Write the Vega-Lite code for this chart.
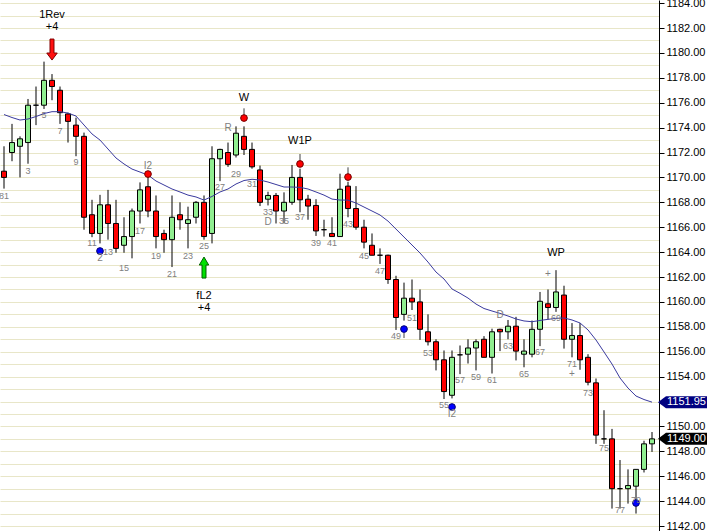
{
"$schema": "https://vega.github.io/schema/vega-lite/v6.json",
"width": 659, "height": 531, "padding": {"left": 0, "top": 0, "right": 53, "bottom": 0}, "autosize": {"type": "none"},
"background": "white",
"config": {"view": {"stroke": null}, "font": "Liberation Sans"},
"resolve": {"axis": {"y": "independent"}},
"datasets": {
"bars": [
{"i":0,"o":1170.5,"h":1172.5,"l":1169.1,"c":1170.0},
{"i":1,"o":1172.0,"h":1174.3,"l":1171.3,"c":1172.8},
{"i":2,"o":1172.5,"h":1173.3,"l":1170.0,"c":1173.1},
{"i":3,"o":1172.8,"h":1176.3,"l":1171.1,"c":1175.8},
{"i":4,"o":1175.8,"h":1177.3,"l":1174.2,"c":1175.8},
{"i":5,"o":1175.8,"h":1179.3,"l":1175.5,"c":1177.8},
{"i":6,"o":1177.8,"h":1178.3,"l":1176.2,"c":1177.3},
{"i":7,"o":1177.0,"h":1177.3,"l":1174.3,"c":1175.2},
{"i":8,"o":1175.1,"h":1175.2,"l":1172.8,"c":1174.5},
{"i":9,"o":1174.2,"h":1174.8,"l":1171.7,"c":1173.3},
{"i":10,"o":1173.3,"h":1173.6,"l":1165.8,"c":1166.8},
{"i":11,"o":1167.0,"h":1168.2,"l":1165.2,"c":1165.5},
{"i":12,"o":1165.5,"h":1168.6,"l":1164.7,"c":1167.8},
{"i":13,"o":1167.8,"h":1169.0,"l":1165.0,"c":1166.3},
{"i":14,"o":1166.3,"h":1168.2,"l":1163.95,"c":1164.3},
{"i":15,"o":1164.55,"h":1166.8,"l":1163.95,"c":1165.25},
{"i":16,"o":1165.25,"h":1167.5,"l":1163.5,"c":1167.3},
{"i":17,"o":1167.3,"h":1169.6,"l":1166.3,"c":1169.0},
{"i":18,"o":1169.25,"h":1170.1,"l":1166.8,"c":1167.3},
{"i":19,"o":1167.3,"h":1168.55,"l":1164.3,"c":1165.25},
{"i":20,"o":1165.5,"h":1165.8,"l":1163.95,"c":1165.0},
{"i":21,"o":1165.0,"h":1168.55,"l":1162.8,"c":1166.8},
{"i":22,"o":1167.0,"h":1168.0,"l":1165.8,"c":1166.6},
{"i":23,"o":1166.3,"h":1167.65,"l":1164.3,"c":1166.6},
{"i":24,"o":1166.8,"h":1168.1,"l":1166.3,"c":1168.0},
{"i":25,"o":1168.0,"h":1168.55,"l":1165.0,"c":1165.25},
{"i":26,"o":1165.5,"h":1172.5,"l":1164.7,"c":1171.5},
{"i":27,"o":1171.5,"h":1172.3,"l":1169.7,"c":1172.25},
{"i":28,"o":1172.0,"h":1172.8,"l":1170.85,"c":1171.05},
{"i":29,"o":1171.8,"h":1174.1,"l":1171.6,"c":1173.55},
{"i":30,"o":1173.3,"h":1174.1,"l":1171.8,"c":1172.25},
{"i":31,"o":1172.25,"h":1172.8,"l":1170.7,"c":1170.85},
{"i":32,"o":1170.6,"h":1170.95,"l":1167.7,"c":1168.0},
{"i":33,"o":1168.25,"h":1168.85,"l":1167.75,"c":1168.55},
{"i":34,"o":1168.55,"h":1168.75,"l":1166.3,"c":1167.3},
{"i":35,"o":1167.3,"h":1168.8,"l":1166.3,"c":1168.0},
{"i":36,"o":1168.0,"h":1171.0,"l":1167.8,"c":1170.0},
{"i":37,"o":1170.0,"h":1170.7,"l":1167.2,"c":1168.2},
{"i":38,"o":1168.25,"h":1168.6,"l":1166.6,"c":1167.7},
{"i":39,"o":1167.75,"h":1168.25,"l":1165.3,"c":1165.7},
{"i":40,"o":1165.8,"h":1166.6,"l":1165.25,"c":1165.8},
{"i":41,"o":1165.5,"h":1166.8,"l":1165.25,"c":1165.25},
{"i":42,"o":1165.25,"h":1170.3,"l":1165.25,"c":1169.05},
{"i":43,"o":1169.3,"h":1169.65,"l":1166.8,"c":1167.5},
{"i":44,"o":1167.5,"h":1169.3,"l":1165.8,"c":1166.0},
{"i":45,"o":1166.0,"h":1166.6,"l":1164.3,"c":1164.8},
{"i":46,"o":1164.55,"h":1165.5,"l":1163.75,"c":1163.75},
{"i":47,"o":1163.75,"h":1164.3,"l":1163.05,"c":1163.75},
{"i":48,"o":1163.75,"h":1163.8,"l":1161.45,"c":1161.8},
{"i":49,"o":1161.8,"h":1162.1,"l":1157.75,"c":1158.75},
{"i":50,"o":1159.0,"h":1161.55,"l":1158.5,"c":1160.3},
{"i":51,"o":1160.3,"h":1161.8,"l":1159.35,"c":1160.0},
{"i":52,"o":1160.0,"h":1161.0,"l":1156.95,"c":1157.8},
{"i":53,"o":1157.6,"h":1159.0,"l":1156.5,"c":1156.8},
{"i":54,"o":1156.8,"h":1157.0,"l":1154.5,"c":1155.35},
{"i":55,"o":1155.35,"h":1156.1,"l":1152.2,"c":1152.8},
{"i":56,"o":1152.5,"h":1156.1,"l":1152.25,"c":1155.55},
{"i":57,"o":1155.75,"h":1156.5,"l":1154.2,"c":1155.75},
{"i":58,"o":1155.8,"h":1157.0,"l":1155.05,"c":1156.3},
{"i":59,"o":1156.3,"h":1157.0,"l":1154.5,"c":1156.8},
{"i":60,"o":1157.0,"h":1157.25,"l":1155.55,"c":1155.55},
{"i":61,"o":1155.55,"h":1157.85,"l":1154.25,"c":1157.6},
{"i":62,"o":1157.8,"h":1157.85,"l":1156.05,"c":1157.6},
{"i":63,"o":1157.6,"h":1158.55,"l":1157.0,"c":1158.05},
{"i":64,"o":1158.05,"h":1158.8,"l":1155.3,"c":1156.05},
{"i":65,"o":1155.8,"h":1157.0,"l":1154.75,"c":1156.05},
{"i":66,"o":1155.8,"h":1158.5,"l":1155.55,"c":1157.8},
{"i":67,"o":1157.8,"h":1160.8,"l":1156.45,"c":1160.05},
{"i":68,"o":1159.85,"h":1161.0,"l":1158.6,"c":1159.55},
{"i":69,"o":1159.55,"h":1162.55,"l":1159.2,"c":1160.8},
{"i":70,"o":1160.55,"h":1161.3,"l":1156.25,"c":1157.0},
{"i":71,"o":1157.0,"h":1158.3,"l":1155.55,"c":1157.3},
{"i":72,"o":1157.3,"h":1158.3,"l":1154.55,"c":1155.35},
{"i":73,"o":1155.55,"h":1155.8,"l":1153.3,"c":1153.55},
{"i":74,"o":1153.5,"h":1153.85,"l":1148.6,"c":1149.3},
{"i":75,"o":1149.0,"h":1151.3,"l":1148.6,"c":1149.0},
{"i":76,"o":1149.0,"h":1149.8,"l":1143.4,"c":1145.0},
{"i":77,"o":1145.0,"h":1147.3,"l":1143.4,"c":1145.0},
{"i":78,"o":1145.0,"h":1146.55,"l":1143.8,"c":1145.25},
{"i":79,"o":1145.2,"h":1146.55,"l":1143.0,"c":1146.55},
{"i":80,"o":1146.55,"h":1148.85,"l":1146.3,"c":1148.6},
{"i":81,"o":1148.6,"h":1149.55,"l":1147.95,"c":1149.0}
],
"ma": [
{"i":0,"m":1175.05},{"i":1,"m":1174.81},{"i":2,"m":1174.61},{"i":3,"m":1174.69},{"i":4,"m":1174.89},
{"i":5,"m":1175.13},{"i":6,"m":1175.28},{"i":7,"m":1175.28},{"i":8,"m":1175.17},{"i":9,"m":1174.93},
{"i":10,"m":1174.21},{"i":11,"m":1173.49},{"i":12,"m":1173.0},{"i":13,"m":1172.28},{"i":14,"m":1171.56},
{"i":15,"m":1171.08},{"i":16,"m":1170.67},{"i":17,"m":1170.43},{"i":18,"m":1170.19},{"i":19,"m":1169.71},
{"i":20,"m":1169.39},{"i":21,"m":1169.07},{"i":22,"m":1168.83},{"i":23,"m":1168.58},{"i":24,"m":1168.43},
{"i":25,"m":1168.18},{"i":26,"m":1168.47},{"i":27,"m":1168.83},{"i":28,"m":1169.07},{"i":29,"m":1169.47},
{"i":30,"m":1169.75},{"i":31,"m":1169.85},{"i":32,"m":1169.79},{"i":33,"m":1169.63},{"i":34,"m":1169.43},
{"i":35,"m":1169.23},{"i":36,"m":1169.23},{"i":37,"m":1169.2},{"i":38,"m":1169.07},{"i":39,"m":1168.83},
{"i":40,"m":1168.58},{"i":41,"m":1168.26},{"i":42,"m":1168.18},{"i":43,"m":1168.18},{"i":44,"m":1167.94},
{"i":45,"m":1167.62},{"i":46,"m":1167.3},{"i":47,"m":1166.98},{"i":48,"m":1166.49},{"i":49,"m":1165.85},
{"i":50,"m":1165.21},{"i":51,"m":1164.57},{"i":52,"m":1163.93},{"i":53,"m":1163.2},{"i":54,"m":1162.4},
{"i":55,"m":1161.84},{"i":56,"m":1161.04},{"i":57,"m":1160.69},{"i":58,"m":1160.31},{"i":59,"m":1159.83},
{"i":60,"m":1159.47},{"i":61,"m":1159.27},{"i":62,"m":1159.08},{"i":63,"m":1158.87},{"i":64,"m":1158.63},
{"i":65,"m":1158.47},{"i":66,"m":1158.41},{"i":67,"m":1158.51},{"i":68,"m":1158.6},{"i":69,"m":1158.68},
{"i":70,"m":1158.71},{"i":71,"m":1158.55},{"i":72,"m":1158.31},{"i":73,"m":1157.75},{"i":74,"m":1156.94},
{"i":75,"m":1155.98},{"i":76,"m":1155.01},{"i":77,"m":1153.89},{"i":78,"m":1153.08},{"i":79,"m":1152.44},
{"i":80,"m":1152.16},{"i":81,"m":1151.95}
],
"nums": [
{"i":0,"p":1168.5,"t":"81"},{"i":3,"p":1170.5,"t":"3"},{"i":5,"p":1175.0,"t":"5"},{"i":7,"p":1173.75,"t":"7"},
{"i":9,"p":1171.2,"t":"9"},{"i":11,"p":1164.75,"t":"11"},{"i":13,"p":1164.0,"t":"13"},{"i":15,"p":1162.75,"t":"15"},
{"i":17,"p":1165.7,"t":"17"},{"i":19,"p":1163.7,"t":"19"},{"i":21,"p":1162.25,"t":"21"},{"i":23,"p":1163.7,"t":"23"},
{"i":25,"p":1164.5,"t":"25"},{"i":27,"p":1169.2,"t":"27"},{"i":29,"p":1170.25,"t":"29"},{"i":31,"p":1169.45,"t":"31"},
{"i":33,"p":1167.25,"t":"33"},{"i":35,"p":1166.5,"t":"35"},{"i":37,"p":1166.8,"t":"37"},{"i":39,"p":1164.7,"t":"39"},
{"i":41,"p":1164.7,"t":"41"},{"i":43,"p":1166.25,"t":"43"},{"i":45,"p":1163.7,"t":"45"},{"i":47,"p":1162.45,"t":"47"},
{"i":49,"p":1157.25,"t":"49"},{"i":51,"p":1158.7,"t":"51"},{"i":53,"p":1155.9,"t":"53"},{"i":55,"p":1151.7,"t":"55"},
{"i":57,"p":1153.75,"t":"57"},{"i":59,"p":1153.95,"t":"59"},{"i":61,"p":1153.75,"t":"61"},{"i":63,"p":1156.45,"t":"63"},
{"i":65,"p":1154.2,"t":"65"},{"i":67,"p":1155.95,"t":"67"},{"i":69,"p":1158.7,"t":"69"},{"i":71,"p":1155.0,"t":"71"},
{"i":73,"p":1152.7,"t":"73"},{"i":75,"p":1148.25,"t":"75"},{"i":77,"p":1143.25,"t":"77"},{"i":79,"p":1144.1,"t":"79"}
],
"notes": [
{"i":28,"p":1173.97,"t":"R"},{"i":33,"p":1166.45,"t":"D"},{"i":62,"p":1158.95,"t":"D"},
{"i":18,"p":1170.92,"t":"I2"},{"i":56,"p":1151.0,"t":"I2"},{"i":12,"p":1163.53,"t":"2"},
{"i":68,"p":1162.24,"t":"+"},{"i":71,"p":1154.21,"t":"+"}
],
"titles": [
{"i":6,"p":1183.04,"t":"1Rev"},{"i":6,"p":1182.08,"t":"+4"},
{"i":25,"p":1160.47,"t":"fL2"},{"i":25,"p":1159.51,"t":"+4"},
{"i":30,"p":1176.38,"t":"W"},{"i":37,"p":1172.92,"t":"W1P"},{"i":69,"p":1163.93,"t":"WP"}
],
"reddots": [{"i":18,"p":1170.27},{"i":30,"p":1174.77},{"i":37,"p":1171.08},{"i":43,"p":1170.03}],
"bluedots": [{"i":12,"p":1164.09},{"i":50,"p":1157.82},{"i":56,"p":1151.56},{"i":79,"p":1143.85}],
"poles": [{"i":30,"a":1175.55,"b":1175.0},{"i":37,"a":1171.88,"b":1171.34},{"i":43,"a":1170.81,"b":1170.27},{"i":50,"a":1157.5,"b":1157.1}],
"down": [{"i":6,"p":1180.27}],
"up": [{"i":25,"p":1162.76}],
"tags": [{"p":1151.95,"t":"1151.95","s":"MA"},{"p":1149.0,"t":"1149.00","s":"Last"}]
},
"layer": [
{"data": {"name": "ma"},
 "mark": {"type": "line", "color": "#3a3a9e", "strokeWidth": 1, "opacity": 0},
 "encoding": {
  "x": {"field": "i", "type": "quantitative",
   "scale": {"domain": [-0.5, 81.875], "nice": false, "zero": false, "padding": 0},
   "axis": {"values": [12, 24, 36, 48, 60, 72], "grid": true, "gridColor": "#e8e6c8",
    "domain": false, "ticks": false, "labels": false, "title": null}},
  "y": {"field": "m", "type": "quantitative", "scale": {"domain": [1141.6, 1184.25], "nice": false, "zero": false},
   "axis": {"orient": "left", "title": null, "values": [1142,1143,1144,1145,1146,1147,1148,1149,1150,1151,1152,1153,1154,1155,1156,1157,1158,1159,1160,1161,1162,1163,1164,1165,1166,1167,1168,1169,1170,1171,1172,1173,1174,1175,1176,1177,1178,1179,1180,1181,1182,1183,1184],
    "grid": true, "gridColor": "#e8e6c8", "domain": false, "ticks": false, "labels": false}}}},
{"mark": {"type": "rule", "color": "#b4b4b4", "strokeWidth": 1},
 "encoding": {
  "x": {"datum": 0, "type": "quantitative", "scale": {"domain": [-0.5, 81.875], "nice": false, "zero": false, "padding": 0}, "axis": null}}},
{"data": {"name": "bars"},
 "mark": {"type": "rule", "color": "black", "strokeWidth": 1},
 "encoding": {
  "x": {"field": "i", "type": "quantitative", "scale": {"domain": [-0.5, 81.875], "nice": false, "zero": false, "padding": 0}, "axis": null},
  "y": {"field": "l", "type": "quantitative",
   "scale": {"domain": [1141.6, 1184.25], "nice": false, "zero": false},
   "axis": {"orient": "right", "title": null,
    "values": [1142,1144,1146,1148,1150,1152,1154,1156,1158,1160,1162,1164,1166,1168,1170,1172,1174,1176,1178,1180,1182,1184],
    "format": ".2f", "labelOverlap": false, "labelFontSize": 11, "labelFont": "Liberation Sans", "labelColor": "black", "labelPadding": 2,
    "tickColor": "black", "tickSize": 5, "domainColor": "black", "grid": false}},
  "y2": {"field": "h"}}},
{"data": {"name": "bars"},
 "mark": {"type": "bar", "width": 5, "stroke": "black", "strokeWidth": 1, "opacity": 1},
 "encoding": {
  "x": {"field": "i", "type": "quantitative", "scale": {"domain": [-0.5, 81.875], "nice": false, "zero": false, "padding": 0}, "axis": null},
  "y": {"field": "o", "type": "quantitative", "scale": {"domain": [1141.6, 1184.25], "nice": false, "zero": false}, "axis": null},
  "y2": {"field": "c"},
  "fill": {"condition": {"test": "datum.c >= datum.o", "value": "#90ee90"}, "value": "#ff0000"}}},
{"data": {"name": "ma"},
 "mark": {"type": "line", "color": "#3a3a9e", "strokeWidth": 1},
 "encoding": {
  "x": {"field": "i", "type": "quantitative", "scale": {"domain": [-0.5, 81.875], "nice": false, "zero": false, "padding": 0}, "axis": null},
  "y": {"field": "m", "type": "quantitative", "scale": {"domain": [1141.6, 1184.25], "nice": false, "zero": false}, "axis": null}}},
{"data": {"name": "poles"},
 "mark": {"type": "rule", "color": "#404040", "strokeWidth": 1},
 "encoding": {
  "x": {"field": "i", "type": "quantitative", "scale": {"domain": [-0.5, 81.875], "nice": false, "zero": false, "padding": 0}, "axis": null},
  "y": {"field": "a", "type": "quantitative", "scale": {"domain": [1141.6, 1184.25], "nice": false, "zero": false}, "axis": null},
  "y2": {"field": "b"}}},
{"data": {"name": "reddots"},
 "mark": {"type": "point", "shape": "circle", "filled": true, "size": 45, "fill": "#ff0000", "stroke": "#700000", "strokeWidth": 1, "opacity": 1},
 "encoding": {
  "x": {"field": "i", "type": "quantitative", "scale": {"domain": [-0.5, 81.875], "nice": false, "zero": false, "padding": 0}, "axis": null},
  "y": {"field": "p", "type": "quantitative", "scale": {"domain": [1141.6, 1184.25], "nice": false, "zero": false}, "axis": null}}},
{"data": {"name": "bluedots"},
 "mark": {"type": "point", "shape": "circle", "filled": true, "size": 45, "fill": "#0000ff", "stroke": "#000070", "strokeWidth": 1, "opacity": 1},
 "encoding": {
  "x": {"field": "i", "type": "quantitative", "scale": {"domain": [-0.5, 81.875], "nice": false, "zero": false, "padding": 0}, "axis": null},
  "y": {"field": "p", "type": "quantitative", "scale": {"domain": [1141.6, 1184.25], "nice": false, "zero": false}, "axis": null}}},
{"data": {"name": "down"},
 "mark": {"type": "point", "shape": "M-0.19,-1L0.19,-1L0.19,0.33L0.5,0.33L0,1L-0.5,0.33L-0.19,0.33Z", "filled": true, "size": 441, "fill": "#ff1010", "stroke": "#800000", "strokeWidth": 1, "opacity": 1},
 "encoding": {
  "x": {"field": "i", "type": "quantitative", "scale": {"domain": [-0.5, 81.875], "nice": false, "zero": false, "padding": 0}, "axis": null},
  "y": {"field": "p", "type": "quantitative", "scale": {"domain": [1141.6, 1184.25], "nice": false, "zero": false}, "axis": null}}},
{"data": {"name": "up"},
 "mark": {"type": "point", "shape": "M-0.19,1L0.19,1L0.19,-0.24L0.45,-0.24L0,-1L-0.45,-0.24L-0.19,-0.24Z", "filled": true, "size": 441, "fill": "#00e000", "stroke": "#006000", "strokeWidth": 1, "opacity": 1},
 "encoding": {
  "x": {"field": "i", "type": "quantitative", "scale": {"domain": [-0.5, 81.875], "nice": false, "zero": false, "padding": 0}, "axis": null},
  "y": {"field": "p", "type": "quantitative", "scale": {"domain": [1141.6, 1184.25], "nice": false, "zero": false}, "axis": null}}},
{"data": {"name": "nums"},
 "mark": {"type": "text", "font": "Liberation Sans Narrow, Liberation Sans", "fontSize": 9, "color": "#808080", "align": "center", "baseline": "middle"},
 "encoding": {
  "x": {"field": "i", "type": "quantitative", "scale": {"domain": [-0.5, 81.875], "nice": false, "zero": false, "padding": 0}, "axis": null},
  "y": {"field": "p", "type": "quantitative", "scale": {"domain": [1141.6, 1184.25], "nice": false, "zero": false}, "axis": null},
  "text": {"field": "t"}}},
{"data": {"name": "notes"},
 "mark": {"type": "text", "font": "Liberation Sans", "fontSize": 10, "color": "#808080", "align": "center", "baseline": "middle"},
 "encoding": {
  "x": {"field": "i", "type": "quantitative", "scale": {"domain": [-0.5, 81.875], "nice": false, "zero": false, "padding": 0}, "axis": null},
  "y": {"field": "p", "type": "quantitative", "scale": {"domain": [1141.6, 1184.25], "nice": false, "zero": false}, "axis": null},
  "text": {"field": "t"}}},
{"data": {"name": "titles"},
 "mark": {"type": "text", "font": "Liberation Sans", "fontSize": 11, "color": "black", "align": "center", "baseline": "middle"},
 "encoding": {
  "x": {"field": "i", "type": "quantitative", "scale": {"domain": [-0.5, 81.875], "nice": false, "zero": false, "padding": 0}, "axis": null},
  "y": {"field": "p", "type": "quantitative", "scale": {"domain": [1141.6, 1184.25], "nice": false, "zero": false}, "axis": null},
  "text": {"field": "t"}}},
{"data": {"name": "tags"},
 "mark": {"type": "point", "shape": "M-1,0L-0.673,-0.245L1,-0.245L1,0.245L-0.673,0.245Z", "filled": true, "size": 2401, "opacity": 1},
 "encoding": {
  "x": {"datum": 84.81, "type": "quantitative", "scale": {"domain": [-0.5, 81.875], "nice": false, "zero": false, "padding": 0}, "axis": null},
  "y": {"field": "p", "type": "quantitative", "scale": {"domain": [1141.6, 1184.25], "nice": false, "zero": false}, "axis": null},
  "color": {"field": "s", "type": "nominal", "scale": {"domain": ["MA", "Last"], "range": ["#000080", "#000000"]}, "legend": null}}},
{"data": {"name": "tags"},
 "mark": {"type": "text", "font": "Liberation Sans", "fontSize": 11, "color": "white", "align": "center", "baseline": "middle"},
 "encoding": {
  "x": {"datum": 85.31, "type": "quantitative", "scale": {"domain": [-0.5, 81.875], "nice": false, "zero": false, "padding": 0}, "axis": null},
  "y": {"field": "p", "type": "quantitative", "scale": {"domain": [1141.6, 1184.25], "nice": false, "zero": false}, "axis": null},
  "text": {"field": "t"}}}
]
}
